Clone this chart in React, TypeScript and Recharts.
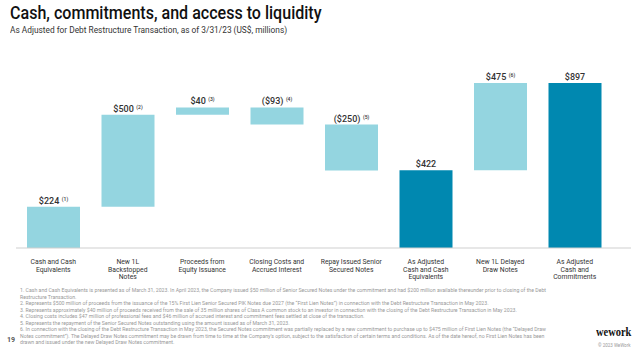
import { BarChart, Bar, XAxis, YAxis, Cell, LabelList } from 'recharts';

const categories = [
  'Cash and Cash\nEquivalents',
  'New 1L\nBackstopped\nNotes',
  'Proceeds from\nEquity Issuance',
  'Closing Costs and\nAccrued Interest',
  'Repay Issued Senior\nSecured Notes',
  'As Adjusted\nCash and Cash\nEquivalents',
  'New 1L Delayed\nDraw Notes',
  'As Adjusted\nCash and\nCommitments',
];
const amounts = [224, 500, 40, -93, -250, 422, 475, 897];
const kinds = ['total', 'step', 'step', 'step', 'step', 'total', 'step', 'total'];
const valueLabels = ['$224', '$500', '$40', '($93)', '($250)', '$422', '$475', '$897'];
const noteRefs = ['(1)', '(2)', '(3)', '(4)', '(5)', '', '(6)', ''];

const footnotes = [
  '1.  Cash and Cash Equivalents is presented as of March 31, 2023. In April  2023, the Company issued $50 million of Senior Secured Notes under the commitment and had $200 million available thereunder prior to closing of the Debt',
  'Restructure Transaction.',
  '2. Represents $500 million of proceeds from the issuance of the 15% First Lien Senior Secured PIK Notes due 2027 (the \u201cFirst Lien Notes\u201d) in connection with the Debt Restructure Transaction in May 2023.',
  '3. Represents approximately $40 million of proceeds received from the sale of 35 million shares of Class A common stock to an investor in connection with the closing of the Debt Restructure Transaction in May 2023.',
  '4.  Closing costs includes $47 million of professional fees and $46 million of accrued interest and commitment fees settled at close of the transaction.',
  '5.  Represents the  repayment of the Senior Secured Notes outstanding using the amount issued as of March 31, 2023.',
  '6. In connection with the closing of the Debt Restructure Transaction in May 2023, the Secured Notes commitment was partially replaced by a new commitment to purchase up to $475 million of First Lien Notes (the \u201cDelayed Draw',
  'Notes commitment\u201d). The Delayed Draw Notes commitment may be drawn from time to time at the Company\u2019s option, subject to the satisfaction of certain terms and conditions. As of the date hereof, no First Lien Notes has been',
  'drawn and issued under the new Delayed Draw Notes commitment.',
];

const LIGHT = '#94d5e0';
const DARK = '#0088b0';
const FONT = 'Roboto, "Open Sans", sans-serif';

// waterfall: totals start at zero, steps float on the running sum
let running = 0;
const data = categories.map((name, i) => {
  let range: [number, number];
  if (kinds[i] === 'total') {
    running = amounts[i];
    range = [0, amounts[i]];
  } else {
    const next = running + amounts[i];
    range = [Math.min(running, next), Math.max(running, next)];
    running = next;
  }
  return { name, range, kind: kinds[i], label: valueLabels[i], note: noteRefs[i] };
});

function CategoryTick(props: any) {
  const { x, y, payload } = props;
  const lines = String(payload.value).split('\n');
  return (
    <text x={x} y={y + 16} textAnchor="middle" fontFamily={FONT} fontSize={6.8} fill="#333">
      {lines.map((l, i) => (
        <tspan key={i} x={x} dy={i === 0 ? 0 : 7.7}>{l}</tspan>
      ))}
    </text>
  );
}

function ValueLabel(props: any) {
  const { x, y, width, index } = props;
  const d = data[index];
  return (
    <text x={x + width / 2} y={y - 3} textAnchor="middle" fontFamily={FONT} fontSize={9} fontWeight={500} fill="#333">
      {d.label}
      {d.note && <tspan dx={2.5} dy={-3} fontSize={5}>{d.note}</tspan>}
    </text>
  );
}

export default function App() {
  return (
    <div style={{ position: 'fixed', left: 0, top: 0, width: 640, height: 349, background: '#fff', overflow: 'hidden', fontFamily: FONT }}>
      <div style={{ position: 'absolute', left: 10, top: 1, fontSize: 19, fontWeight: 500, color: '#111', whiteSpace: 'nowrap', transform: 'scaleX(0.845)', transformOrigin: 'left top' }}>
        Cash, commitments, and access to liquidity
      </div>
      <div style={{ position: 'absolute', left: 10, top: 25, fontSize: 9, color: '#333', whiteSpace: 'nowrap', transform: 'scaleX(0.925)', transformOrigin: 'left top' }}>
        As Adjusted for Debt Restructure Transaction, as of 3/31/23 (US$, millions)
      </div>
      <div style={{ position: 'absolute', left: 0, top: 0 }}>
        <BarChart width={640} height={300} data={data} margin={{ top: 83, right: 9, bottom: 0, left: 16 }}>
          <YAxis hide domain={[0, 897]} />
          <XAxis
            dataKey="name"
            height={52}
            interval={0}
            tickLine={false}
            tickSize={0}
            tickMargin={0}
            axisLine={{ stroke: '#cfcfcf', strokeWidth: 1 }}
            padding={{ left: 0, right: 19 }}
            tick={<CategoryTick />}
          />
          <Bar dataKey="range" barSize={53} isAnimationActive={false}>
            {data.map((d, i) => (
              <Cell key={i} fill={d.kind === 'total' && i > 0 ? DARK : LIGHT} />
            ))}
            <LabelList dataKey="range" content={<ValueLabel />} />
          </Bar>
        </BarChart>
      </div>
      <div style={{ position: 'absolute', left: 20, top: 287, fontSize: 5.2, lineHeight: '6.5px', color: '#999', whiteSpace: 'nowrap' }}>
        {footnotes.map((f, i) => (
          <div key={i}>{f}</div>
        ))}
      </div>
      <div style={{ position: 'absolute', left: 7, top: 336, fontSize: 7, fontWeight: 700, color: '#555' }}>19</div>
      <div style={{ position: 'absolute', left: 596, top: 325, fontSize: 12, fontWeight: 700, fontFamily: '"Liberation Serif", serif', color: '#111', whiteSpace: 'nowrap', transform: 'scaleX(0.87)', transformOrigin: 'left top' }}>
        wework
      </div>
      <div style={{ position: 'absolute', left: 598, top: 343, fontSize: 4.5, color: '#999', whiteSpace: 'nowrap' }}>
        © 2023 WeWork
      </div>
    </div>
  );
}
